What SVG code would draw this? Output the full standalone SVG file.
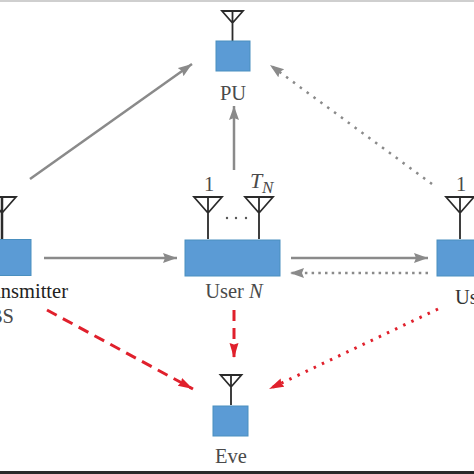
<svg xmlns="http://www.w3.org/2000/svg" width="474" height="474" viewBox="0 0 474 474">
<defs>
<marker id="g" markerUnits="userSpaceOnUse" markerWidth="16" markerHeight="12" refX="14" refY="5" orient="auto"><path d="M0 0L14 5L0 10L2 5Z" fill="#8a8a8a"/></marker>
<marker id="r" markerUnits="userSpaceOnUse" markerWidth="18" markerHeight="12" refX="15" refY="5" orient="auto"><path d="M0 0.500L15 5L0 9.500L1.500 5Z" fill="#e0202c"/></marker>
<g id="ant"><path d="M-14 0H14L0 16ZM0 0V42" fill="none" stroke="#2b2b2b" stroke-width="1.800"/></g>
<g id="ants"><path d="M-10.500 0H10.500L0 12ZM0 0V30" fill="none" stroke="#2b2b2b" stroke-width="1.800"/></g>
</defs>
<style>
.box{fill:#5b9bd5;stroke:#4a8fbf;stroke-width:1}
.t{font-family:"Liberation Serif",serif;font-size:20.500px;fill:#4a4a4a}
.gl{stroke:#8a8a8a;stroke-width:2.500;fill:none;marker-end:url(#g)}
.gd{stroke:#8a8a8a;stroke-width:2.500;fill:none;stroke-dasharray:2.500 4.200;marker-end:url(#g)}
.gw{stroke-dasharray:2.500 6}
.rd{stroke:#e0202c;stroke-width:3;fill:none;stroke-dasharray:11 7;marker-end:url(#r)}
.rt{stroke:#e0202c;stroke-width:3;fill:none;stroke-dasharray:2.500 6.500;marker-end:url(#r)}
</style>
<rect width="474" height="474" fill="#fff"/>
<rect width="474" height="2" fill="#cfcfcf"/>
<rect y="471" width="474" height="3" fill="#2a2a2a"/>
<g id="connectors">
<path class="gl" d="M30 179L192 64"/>
<path class="gl" d="M234 170V106"/>
<path class="gd gw" d="M432 184L270 65"/>
<path class="gl" d="M44 258H177"/>
<path class="gl" d="M291 258H428"/>
<path class="gd" d="M428 273H290"/>
<path class="rd" d="M47 310L193 389"/>
<path class="rd" d="M234 310V358"/>
<path class="rt" d="M438 309L269 389"/>
</g>
<g id="pu"><use href="#ants" x="232.500" y="11"/><rect class="box" x="216" y="41" width="34" height="30"/><text class="t" x="233" y="100" text-anchor="middle">PU</text></g>
<g id="bs"><use href="#ant" x="2" y="197"/><path d="M2 197V239" stroke="#2b2b2b" stroke-width="2.500"/><rect class="box" x="-10" y="239.500" width="41" height="36"/><text class="t" x="68" y="298" text-anchor="end" style="fill:#222">Transmitter</text><text class="t" x="14" y="323" text-anchor="end">BS</text></g>
<g id="usern"><use href="#ant" x="208" y="197"/><use href="#ant" x="259" y="197"/><text class="t" x="209" y="191" text-anchor="middle">1</text><text class="t" x="250" y="188" font-style="italic" style="font-size:22px">T</text><text class="t" x="262" y="193" font-style="italic" style="font-size:17px">N</text><circle cx="227" cy="218" r="1.200" fill="#555"/><circle cx="236" cy="218" r="1.200" fill="#555"/><circle cx="246" cy="218" r="1.200" fill="#555"/><rect class="box" x="185" y="240" width="95" height="36"/><text class="t" x="234" y="298" text-anchor="middle">User <tspan font-style="italic">N</tspan></text></g>
<g id="user1"><use href="#ant" x="460" y="197"/><text class="t" x="461" y="191" text-anchor="middle">1</text><rect class="box" x="437" y="240" width="50" height="36"/><text class="t" x="455" y="304" style="fill:#333">User 1</text></g>
<g id="eve"><use href="#ants" x="231" y="375"/><rect class="box" x="213" y="406" width="35" height="30"/><text class="t" x="231" y="463" text-anchor="middle">Eve</text></g>
</svg>
